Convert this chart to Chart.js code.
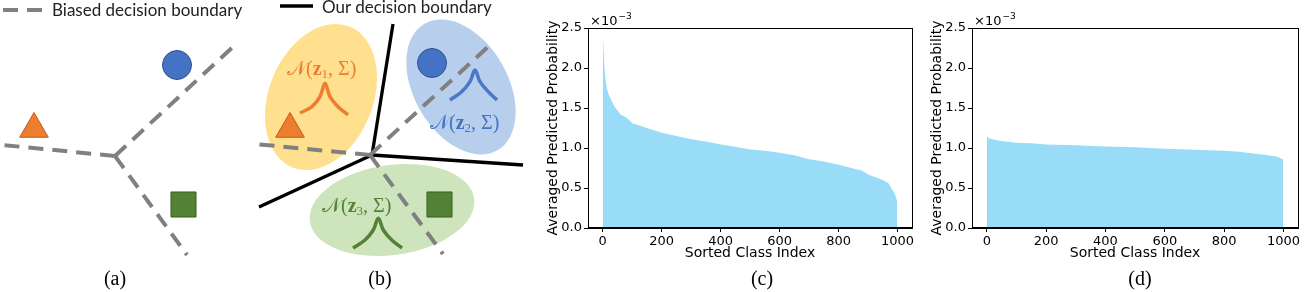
<!DOCTYPE html>
<html>
<head>
<meta charset="utf-8">
<script src="https://cdn.jsdelivr.net/npm/chart.js@4.4.1/dist/chart.umd.min.js"></script>
<style>
  html, body { margin: 0; padding: 0; background: #fff; }
  #wrap { position: relative; width: 1304px; height: 292px; overflow: hidden; }
  canvas { position: absolute; top: 0; }
  .txt { position: absolute; white-space: nowrap; line-height: 1; }
  .legend { font-family: Lato, sans-serif; font-size: 17px; color: #222; }
  .cap { font-family: "Liberation Serif", serif; font-size: 20px; color: #000; transform: translateX(-50%); }
  .math { font-family: "Liberation Serif", "DejaVu Serif", serif; font-size: 20px; }
  .math b { font-weight: bold; }
  .math sub { font-size: 13px; vertical-align: -3px; }
</style>
</head>
<body>
<div id="wrap">
  <canvas id="diagram" width="540" height="292" style="left:0"></canvas>
  <canvas id="chartC" width="380" height="292" style="left:540px"></canvas>
  <canvas id="chartD" width="384" height="292" style="left:920px"></canvas>

  <div class="txt legend" style="left:52px; top:1px">Biased decision boundary</div>
  <div class="txt legend" style="left:322px; top:-2px">Our decision boundary</div>

  <div class="txt math" style="left:287px; top:58px; color:#ed7d31">𝒩(<b>z</b><sub>1</sub>, Σ)</div>
  <div class="txt math" style="left:430px; top:112px; color:#4472c4">𝒩(<b>z</b><sub>2</sub>, Σ)</div>
  <div class="txt math" style="left:322px; top:195px; color:#548235">𝒩(<b>z</b><sub>3</sub>, Σ)</div>

  <div class="txt cap" style="left:115px; top:268px">(a)</div>
  <div class="txt cap" style="left:380px; top:268px">(b)</div>
  <div class="txt cap" style="left:762px; top:268px">(c)</div>
  <div class="txt cap" style="left:1140px; top:268px">(d)</div>
</div>

<script>
// ---- panels (a) and (b): diagram, coordinates in picture pixels ----
const biasedJunctions = [[115, 156], [370, 155]];
const biasedEnds = [
    [[3, 145], [235, 45], [187, 255]],
    [[255, 144], [490, 45], [443, 254]]
];
const oursJunction = [372, 155];
const oursEnds = [[393, 24], [523, 165], [259, 207]];
const legendDash = [[3, 10], [43, 10]];
const legendSolid = [[280, 6], [313, 6]];

const circles = [[177, 65], [432, 63]];
const triangles = [[34, 129], [290, 129]];
const squares = [[183.5, 204.5], [439.5, 204.5]];

const blobCenters = [[321, 97], [461, 87], [392, 210]];
const blobRadii = [[52, 76], [47, 73], [83, 45]];
const blobTilt = [22, -30, -8];
const blobColors = ['#ffe08f', '#b7cfec', '#cde4bd'];

const bumps = [
    [[300, 113], [312, 106.7], [320, 96.7], [325, 83.3], [330, 96.7], [338, 106.7], [348, 115]],
    [[450, 100], [461.7, 91.7], [470, 81.7], [475, 70], [480, 81.7], [488.3, 91.7], [497, 100]],
    [[353, 248], [365, 240], [373.3, 230], [378.3, 218.3], [383.3, 230], [391.7, 240], [402, 248]]
];
const bumpColors = ['#ed7d31', '#4a78c8', '#548235'];

// ---- panels (c) and (d): sorted class probabilities (x 1e-3) ----
const classIdxC = [0, 2, 5, 10, 15, 20, 30, 40, 50, 60, 70, 80, 90, 100, 150, 200, 250, 300, 350, 400,
    450, 500, 550, 600, 650, 700, 750, 800, 850, 880, 900, 950, 970, 980, 990, 999];
const probC = [2.46, 2.30, 2.05, 1.85, 1.73, 1.67, 1.59, 1.52, 1.47, 1.42, 1.40, 1.38, 1.35, 1.31, 1.25, 1.19,
    1.15, 1.11, 1.08, 1.045, 1.015, 0.98, 0.965, 0.94, 0.91, 0.86, 0.83, 0.79, 0.745, 0.715, 0.67, 0.60,
    0.556, 0.49, 0.43, 0.33];

const classIdxD = [0, 10, 30, 50, 100, 150, 200, 300, 400, 500, 600, 700, 800, 850, 900, 950, 980, 999];
const probD = [1.14, 1.12, 1.10, 1.087, 1.066, 1.058, 1.045, 1.033, 1.02, 1.008, 0.99, 0.978, 0.966,
    0.953, 0.93, 0.91, 0.89, 0.857];

const xTicks = [0, 200, 400, 600, 800, 1000];
const yTicks = [0, 0.5, 1.0, 1.5, 2.0, 2.5];

const pt = ([x, y]) => ({ x, y });

const lineSet = (points, color, width, dash) => ({
    type: 'line',
    data: points.map(pt),
    borderColor: color,
    borderWidth: width,
    borderDash: dash || [],
    pointRadius: 0,
    showLine: true,
    fill: false,
    clip: false
});

const markerSet = (points, style, radius, fill, edge) => ({
    type: 'scatter',
    data: points.map(pt),
    pointStyle: style,
    pointRadius: radius,
    backgroundColor: fill,
    borderColor: edge,
    borderWidth: 1,
    clip: false
});

const blobPlugin = {
    id: 'blobs',
    beforeDatasetsDraw(chart) {
        const { ctx, scales: { x, y } } = chart;
        ctx.save();
        blobCenters.forEach((c, i) => {
            const cx = x.getPixelForValue(c[0]);
            const cy = y.getPixelForValue(c[1]);
            const rx = Math.abs(x.getPixelForValue(c[0] + blobRadii[i][0]) - cx);
            const ry = Math.abs(y.getPixelForValue(c[1] + blobRadii[i][1]) - cy);
            ctx.beginPath();
            ctx.ellipse(cx, cy, rx, ry, blobTilt[i] * Math.PI / 180, 0, Math.PI * 2);
            ctx.fillStyle = blobColors[i];
            ctx.fill();
        });
        ctx.restore();
    }
};

const diagramSets = [];
biasedJunctions.forEach((j, k) => {
    biasedEnds[k].forEach(e => diagramSets.push(lineSet([j, e], '#808080', 4, [15, 9])));
});
diagramSets.push(lineSet(legendDash, '#808080', 4, [15, 9]));
oursEnds.forEach(e => diagramSets.push(lineSet([oursJunction, e], '#000', 3.3)));
diagramSets.push(lineSet(legendSolid, '#000', 3.3));
diagramSets.push(markerSet(circles, 'circle', 14.5, '#4472c4', '#2f528f'));
diagramSets.push(markerSet(triangles, 'triangle', 16.5, '#ed7d31', '#c55a11'));
diagramSets.push(markerSet(squares, 'rect', 17.7, '#548235', '#3b5e26'));
bumps.forEach((b, i) => {
    const s = lineSet(b, bumpColors[i], 3.5);
    s.tension = 0.35;
    diagramSets.push(s);
});

new Chart(document.getElementById('diagram'), {
    type: 'scatter',
    data: { datasets: diagramSets },
    options: {
        responsive: false,
        animation: false,
        events: [],
        layout: { padding: 0, autoPadding: false },
        plugins: { legend: { display: false }, tooltip: { enabled: false } },
        scales: {
            x: { type: 'linear', min: 0, max: 540, display: false },
            y: { type: 'linear', min: 0, max: 292, reverse: true, display: false }
        }
    },
    plugins: [blobPlugin]
});

// ---- probability charts ----
const frame = {
    id: 'frame',
    afterDraw(chart) {
        const { ctx, chartArea: a } = chart;
        ctx.save();
        ctx.strokeStyle = '#000';
        ctx.lineWidth = 1;
        ctx.strokeRect(Math.round(a.left) + 0.5, Math.round(a.top) + 0.5,
            Math.round(a.right - a.left), Math.round(a.bottom - a.top) - 1);
        // offset text of the y axis
        ctx.fillStyle = '#000';
        ctx.textBaseline = 'alphabetic';
        ctx.font = '13px "DejaVu Sans"';
        ctx.fillText('×10', a.left + 2, a.top - 3);
        const w = ctx.measureText('×10').width;
        ctx.font = '9px "DejaVu Sans"';
        ctx.fillText('−3', a.left + 3 + w, a.top - 9);
        ctx.restore();
    }
};

const tickFont = { family: 'DejaVu Sans', size: 13 };
const titleFont = { family: 'DejaVu Sans', size: 14 };

function probChart(id, idx, prob, yWidth, rightPad, yTitlePad) {
    return new Chart(document.getElementById(id), {
        type: 'line',
        data: {
            datasets: [{
                data: idx.map((v, i) => ({ x: v, y: prob[i] })),
                fill: 'origin',
                backgroundColor: '#99dcf7',
                borderWidth: 0,
                pointRadius: 0,
                tension: 0
            }]
        },
        options: {
            responsive: false,
            animation: false,
            events: [],
            layout: { padding: { top: 28, right: rightPad, bottom: 30, left: 0 }, autoPadding: false },
            plugins: { legend: { display: false }, tooltip: { enabled: false } },
            scales: {
                x: {
                    type: 'linear',
                    min: -50,
                    max: 1049,
                    afterBuildTicks: s => { s.ticks = xTicks.map(value => ({ value })); },
                    afterFit: s => { s.height = 34; },
                    ticks: { font: tickFont, color: '#000', padding: 2, maxRotation: 0, autoSkip: false,
                        callback: v => String(v) },
                    grid: { drawOnChartArea: false, tickLength: 4, color: '#000' },
                    border: { color: '#000' },
                    title: { display: true, text: 'Sorted Class Index', font: titleFont, color: '#000', padding: 0 }
                },
                y: {
                    type: 'linear',
                    min: 0,
                    max: 2.5,
                    afterBuildTicks: s => { s.ticks = yTicks.map(value => ({ value })); },
                    afterFit: s => { s.width = yWidth; },
                    ticks: { font: tickFont, color: '#000', padding: 2, callback: v => v.toFixed(1) },
                    grid: { drawOnChartArea: false, tickLength: 4, color: '#000' },
                    border: { color: '#000' },
                    title: { display: true, text: 'Averaged Predicted Probability', font: titleFont, color: '#000',
                        padding: { top: yTitlePad, bottom: 0 } }
                }
            }
        },
        plugins: [frame]
    });
}

probChart('chartC', classIdxC, probC, 48, 8, 5);
probChart('chartD', classIdxD, probD, 52, 6, 9);
</script>
</body>
</html>
